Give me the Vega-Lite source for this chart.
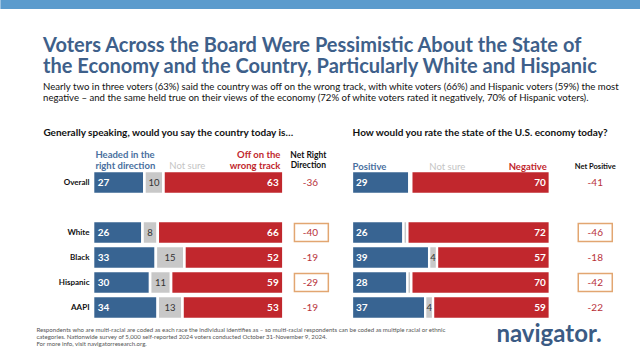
{
  "$schema": "https://vega.github.io/schema/vega-lite/v6.json",
  "padding": 0,
  "background": "white",
  "spacing": 26,
  "config": {"font": "Lato", "view": {"stroke": null}},
  "datasets": {
    "country": [
      {"group": "Overall", "answer": "Positive", "value": 27},
      {"group": "Overall", "answer": "Not sure", "value": 10},
      {"group": "Overall", "answer": "Negative", "value": 63},
      {"group": "White", "answer": "Positive", "value": 26},
      {"group": "White", "answer": "Not sure", "value": 8},
      {"group": "White", "answer": "Negative", "value": 66},
      {"group": "Black", "answer": "Positive", "value": 33},
      {"group": "Black", "answer": "Not sure", "value": 15},
      {"group": "Black", "answer": "Negative", "value": 52},
      {"group": "Hispanic", "answer": "Positive", "value": 30},
      {"group": "Hispanic", "answer": "Not sure", "value": 11},
      {"group": "Hispanic", "answer": "Negative", "value": 59},
      {"group": "AAPI", "answer": "Positive", "value": 34},
      {"group": "AAPI", "answer": "Not sure", "value": 13},
      {"group": "AAPI", "answer": "Negative", "value": 53}
    ],
    "economy": [
      {"group": "Overall", "answer": "Positive", "value": 29},
      {"group": "Overall", "answer": "Not sure", "value": 1},
      {"group": "Overall", "answer": "Negative", "value": 70},
      {"group": "White", "answer": "Positive", "value": 26},
      {"group": "White", "answer": "Not sure", "value": 2},
      {"group": "White", "answer": "Negative", "value": 72},
      {"group": "Black", "answer": "Positive", "value": 39},
      {"group": "Black", "answer": "Not sure", "value": 4},
      {"group": "Black", "answer": "Negative", "value": 57},
      {"group": "Hispanic", "answer": "Positive", "value": 28},
      {"group": "Hispanic", "answer": "Not sure", "value": 2},
      {"group": "Hispanic", "answer": "Negative", "value": 70},
      {"group": "AAPI", "answer": "Positive", "value": 37},
      {"group": "AAPI", "answer": "Not sure", "value": 4},
      {"group": "AAPI", "answer": "Negative", "value": 59}
    ],
    "countryNet": [
      {"group": "Overall", "net": "-36", "flag": false},
      {"group": "White", "net": "-40", "flag": true},
      {"group": "Black", "net": "-19", "flag": false},
      {"group": "Hispanic", "net": "-29", "flag": true},
      {"group": "AAPI", "net": "-19", "flag": false}
    ],
    "economyNet": [
      {"group": "Overall", "net": "-41", "flag": false},
      {"group": "White", "net": "-46", "flag": true},
      {"group": "Black", "net": "-18", "flag": false},
      {"group": "Hispanic", "net": "-42", "flag": true},
      {"group": "AAPI", "net": "-22", "flag": false}
    ],
    "band": [{"id": "band"}],
    "footer": [
      {
        "note": [
          "Respondents who are multi-racial are coded as each race the individual identifies as – so multi-racial respondents can be coded as multiple racial or ethnic",
          "categories. Nationwide survey of 5,000 self-reported 2024 voters conducted October 31-November 9, 2024.",
          "For more info, visit navigatorresearch.org."
        ],
        "brand": "navigator."
      }
    ]
  },
  "vconcat": [
    {
      "data": {"name": "band"},
      "width": 547.4,
      "height": 9,
      "mark": {"type": "rect", "color": "#5b9bcd"},
      "encoding": {
        "x": {"datum": -0.16917, "type": "quantitative", "scale": {"domain": [0, 1]}, "axis": null},
        "x2": {"datum": 1}
      }
    },
    {
      "title": {
        "text": [
          "Voters Across the Board Were Pessimistic About the State of",
          "the Economy and the Country, Particularly White and Hispanic"
        ],
        "subtitle": [
          "Nearly two in three voters (63%) said the country was off on the wrong track, with white voters (66%) and Hispanic voters (59%) the most",
          "negative – and the same held true on their views of the economy (72% of white voters rated it negatively, 70% of Hispanic voters)."
        ],
        "anchor": "start",
        "frame": "group",
        "dx": -49.9,
        "font": "Lato",
        "fontSize": 20,
        "fontWeight": "bold",
        "color": "#3e608a",
        "lineHeight": 21,
        "subtitleFont": "Lato",
        "subtitleFontSize": 9.6,
        "subtitleColor": "#111111",
        "subtitleLineHeight": 11,
        "subtitlePadding": 5,
        "offset": 25
      },
      "spacing": 1,
      "vconcat": [
        {
          "spacing": 19,
          "hconcat": [
            {
              "width": 238,
              "height": 175,
              "title": {
                "text": "Generally speaking, would you say the country today is…",
                "anchor": "start",
                "frame": "group",
                "dx": -49.6,
                "fontSize": 10,
                "fontWeight": "bold",
                "color": "#111111",
                "offset": 7.5
              },
              "encoding": {
                "y": {
                  "field": "group",
                  "type": "nominal",
                  "scale": {"domain": ["head", "Overall", "gap", "White", "Black", "Hispanic", "AAPI"], "paddingInner": 0.08, "paddingOuter": 0.04},
                  "axis": {
                    "title": null, "domain": false, "ticks": false, "grid": false,
                    "labelPadding": 4, "labelFontSize": 8, "labelFontWeight": "bold", "labelColor": "#111111",
                    "labelExpr": "datum.value == 'head' || datum.value == 'gap' ? '' : datum.value"
                  }
                }
              },
              "layer": [
                {
                  "data": {"name": "country"},
                  "mark": {"type": "bar", "stroke": "white", "strokeWidth": 2.6},
                  "encoding": {
                    "x": {"field": "value", "type": "quantitative", "stack": "zero", "scale": {"domain": [0, 125], "nice": false}, "axis": null},
                    "color": {"field": "answer", "type": "nominal", "scale": {"domain": ["Positive", "Not sure", "Negative"], "range": ["#386492", "#c8c8c8", "#c1272d"]}, "legend": null},
                    "order": {"field": "answer", "sort": "descending"}
                  }
                },
                {
                  "data": {"name": "country"},
                  "transform": [{"filter": "datum.answer === 'Positive'"}],
                  "mark": {"type": "text", "align": "left", "baseline": "middle", "dx": 4.7, "color": "white", "fontWeight": "bold", "fontSize": 10},
                  "encoding": {"x": {"datum": 0, "type": "quantitative"}, "text": {"field": "value", "type": "quantitative"}}
                },
                {
                  "data": {"name": "country"},
                  "mark": {"type": "text", "align": "center", "baseline": "middle", "color": "#333333", "fontSize": 9.5},
                  "encoding": {
                    "x": {"field": "value", "type": "quantitative", "stack": "zero", "bandPosition": 0.5},
                    "detail": {"field": "answer"},
                    "order": {"field": "answer", "sort": "descending"},
                    "text": {"condition": {"test": "datum.answer === 'Not sure' && datum.value >= 3", "field": "value", "type": "quantitative"}, "value": ""}
                  }
                },
                {
                  "data": {"name": "country"},
                  "transform": [{"filter": "datum.answer === 'Negative'"}],
                  "mark": {"type": "text", "align": "right", "baseline": "middle", "dx": -4.7, "color": "white", "fontWeight": "bold", "fontSize": 10},
                  "encoding": {"x": {"datum": 100, "type": "quantitative"}, "text": {"field": "value", "type": "quantitative"}}
                },
                {
                  "data": {"name": "countryNet"},
                  "transform": [{"filter": "datum.flag"}],
                  "mark": {"type": "rect", "fillOpacity": 0, "stroke": "#e2a671", "strokeWidth": 1.5, "height": 18},
                  "encoding": {"x": {"datum": 105.8, "type": "quantitative"}, "x2": {"datum": 123.6}}
                },
                {
                  "data": {"name": "countryNet"},
                  "mark": {"type": "text", "align": "center", "baseline": "middle", "color": "#b8323a", "fontSize": 10},
                  "encoding": {"x": {"datum": 114.2, "type": "quantitative"}, "text": {"field": "net"}}
                },
                {
                  "data": {"values": [{}]},
                  "mark": {"type": "text", "text": ["Headed in the", "right direction"], "align": "left", "baseline": "middle", "dx": 2.4, "dy": -3, "lineHeight": 11, "fontSize": 9.5, "fontWeight": "bold", "color": "#4a70a0"},
                  "encoding": {"x": {"datum": 0, "type": "quantitative"}, "y": {"datum": "head", "type": "nominal"}}
                },
                {
                  "data": {"values": [{}]},
                  "mark": {"type": "text", "text": "Not sure", "align": "left", "baseline": "middle", "dy": 8.5, "fontSize": 9.5, "color": "#c4c4c4"},
                  "encoding": {"x": {"datum": 40.1, "type": "quantitative"}, "y": {"datum": "head", "type": "nominal"}}
                },
                {
                  "data": {"values": [{}]},
                  "mark": {"type": "text", "text": ["Off on the", "wrong track"], "align": "right", "baseline": "middle", "dx": -3, "dy": -3, "lineHeight": 11, "fontSize": 9.5, "fontWeight": "bold", "color": "#c1272d"},
                  "encoding": {"x": {"datum": 100, "type": "quantitative"}, "y": {"datum": "head", "type": "nominal"}}
                },
                {
                  "data": {"values": [{}]},
                  "mark": {"type": "text", "text": ["Net Right", "Direction"], "align": "center", "baseline": "middle", "dy": -2.7, "lineHeight": 10.7, "fontSize": 8.5, "fontWeight": "bold", "color": "#111111"},
                  "encoding": {"x": {"datum": 113.1, "type": "quantitative"}, "y": {"datum": "head", "type": "nominal"}}
                }
              ]
            },
            {
              "width": 267,
              "height": 175,
              "title": {
                "text": "How would you rate the state of the U.S. economy today?",
                "anchor": "start",
                "frame": "group",
                "dx": 0.6,
                "fontSize": 10,
                "fontWeight": "bold",
                "color": "#111111",
                "offset": 7.5
              },
              "encoding": {
                "y": {
                  "field": "group",
                  "type": "nominal",
                  "scale": {"domain": ["head", "Overall", "gap", "White", "Black", "Hispanic", "AAPI"], "paddingInner": 0.08, "paddingOuter": 0.04},
                  "axis": null
                }
              },
              "layer": [
                {
                  "data": {"name": "economy"},
                  "mark": {"type": "bar", "stroke": "white", "strokeWidth": 2.3},
                  "encoding": {
                    "x": {"field": "value", "type": "quantitative", "stack": "zero", "scale": {"domain": [0, 135], "nice": false}, "axis": null},
                    "color": {"field": "answer", "type": "nominal", "scale": {"domain": ["Positive", "Not sure", "Negative"], "range": ["#386492", "#c8c8c8", "#c1272d"]}, "legend": null},
                    "order": {"field": "answer", "sort": "descending"}
                  }
                },
                {
                  "data": {"name": "economy"},
                  "transform": [{"filter": "datum.answer === 'Positive'"}],
                  "mark": {"type": "text", "align": "left", "baseline": "middle", "dx": 4, "color": "white", "fontWeight": "bold", "fontSize": 10},
                  "encoding": {"x": {"datum": 0, "type": "quantitative"}, "text": {"field": "value", "type": "quantitative"}}
                },
                {
                  "data": {"name": "economy"},
                  "mark": {"type": "text", "align": "center", "baseline": "middle", "color": "#333333", "fontSize": 9.5},
                  "encoding": {
                    "x": {"field": "value", "type": "quantitative", "stack": "zero", "bandPosition": 0.5},
                    "detail": {"field": "answer"},
                    "order": {"field": "answer", "sort": "descending"},
                    "text": {"condition": {"test": "datum.answer === 'Not sure' && datum.value >= 3", "field": "value", "type": "quantitative"}, "value": ""}
                  }
                },
                {
                  "data": {"name": "economy"},
                  "transform": [{"filter": "datum.answer === 'Negative'"}],
                  "mark": {"type": "text", "align": "right", "baseline": "middle", "dx": -4, "color": "white", "fontWeight": "bold", "fontSize": 10},
                  "encoding": {"x": {"datum": 100, "type": "quantitative"}, "text": {"field": "value", "type": "quantitative"}}
                },
                {
                  "data": {"name": "economyNet"},
                  "transform": [{"filter": "datum.flag"}],
                  "mark": {"type": "rect", "fillOpacity": 0, "stroke": "#e2a671", "strokeWidth": 1.5, "height": 18},
                  "encoding": {"x": {"datum": 114.4, "type": "quantitative"}, "x2": {"datum": 131.6}}
                },
                {
                  "data": {"name": "economyNet"},
                  "mark": {"type": "text", "align": "center", "baseline": "middle", "color": "#b8323a", "fontSize": 10},
                  "encoding": {"x": {"datum": 123.0, "type": "quantitative"}, "text": {"field": "net"}}
                },
                {
                  "data": {"values": [{}]},
                  "mark": {"type": "text", "text": "Positive", "align": "left", "baseline": "middle", "dx": 0.6, "dy": 9, "fontSize": 9.5, "fontWeight": "bold", "color": "#4a70a0"},
                  "encoding": {"x": {"datum": 0, "type": "quantitative"}, "y": {"datum": "head", "type": "nominal"}}
                },
                {
                  "data": {"values": [{}]},
                  "mark": {"type": "text", "text": "Not sure", "align": "left", "baseline": "middle", "dy": 9, "fontSize": 9.5, "color": "#c4c4c4"},
                  "encoding": {"x": {"datum": 39.1, "type": "quantitative"}, "y": {"datum": "head", "type": "nominal"}}
                },
                {
                  "data": {"values": [{}]},
                  "mark": {"type": "text", "text": "Negative", "align": "right", "baseline": "middle", "dx": -3, "dy": 9, "fontSize": 9.5, "fontWeight": "bold", "color": "#c1272d"},
                  "encoding": {"x": {"datum": 100, "type": "quantitative"}, "y": {"datum": "head", "type": "nominal"}}
                },
                {
                  "data": {"values": [{}]},
                  "mark": {"type": "text", "text": "Net Positive", "align": "center", "baseline": "middle", "dy": 9, "fontSize": 7.5, "fontWeight": "bold", "color": "#111111"},
                  "encoding": {"x": {"datum": 123.0, "type": "quantitative"}, "y": {"datum": "head", "type": "nominal"}}
                }
              ]
            }
          ]
        },
        {
          "data": {"name": "footer"},
          "width": 520,
          "height": 28,
          "layer": [
            {
              "mark": {"type": "text", "align": "left", "baseline": "top", "fontSize": 6.1, "lineHeight": 7, "color": "#555555"},
              "encoding": {
                "x": {"datum": -0.10885, "type": "quantitative", "scale": {"domain": [0, 1]}, "axis": null},
                "y": {"datum": 1, "type": "quantitative", "scale": {"domain": [0, 1]}, "axis": null},
                "text": {"field": "note"}
              }
            },
            {
              "mark": {"type": "text", "align": "left", "baseline": "alphabetic", "fontSize": 24, "fontWeight": "bold", "color": "#3b5b84"},
              "encoding": {
                "x": {"datum": 0.7758, "type": "quantitative"},
                "y": {"datum": 0.48, "type": "quantitative"},
                "text": {"field": "brand"}
              }
            }
          ]
        }
      ]
    }
  ]
}
